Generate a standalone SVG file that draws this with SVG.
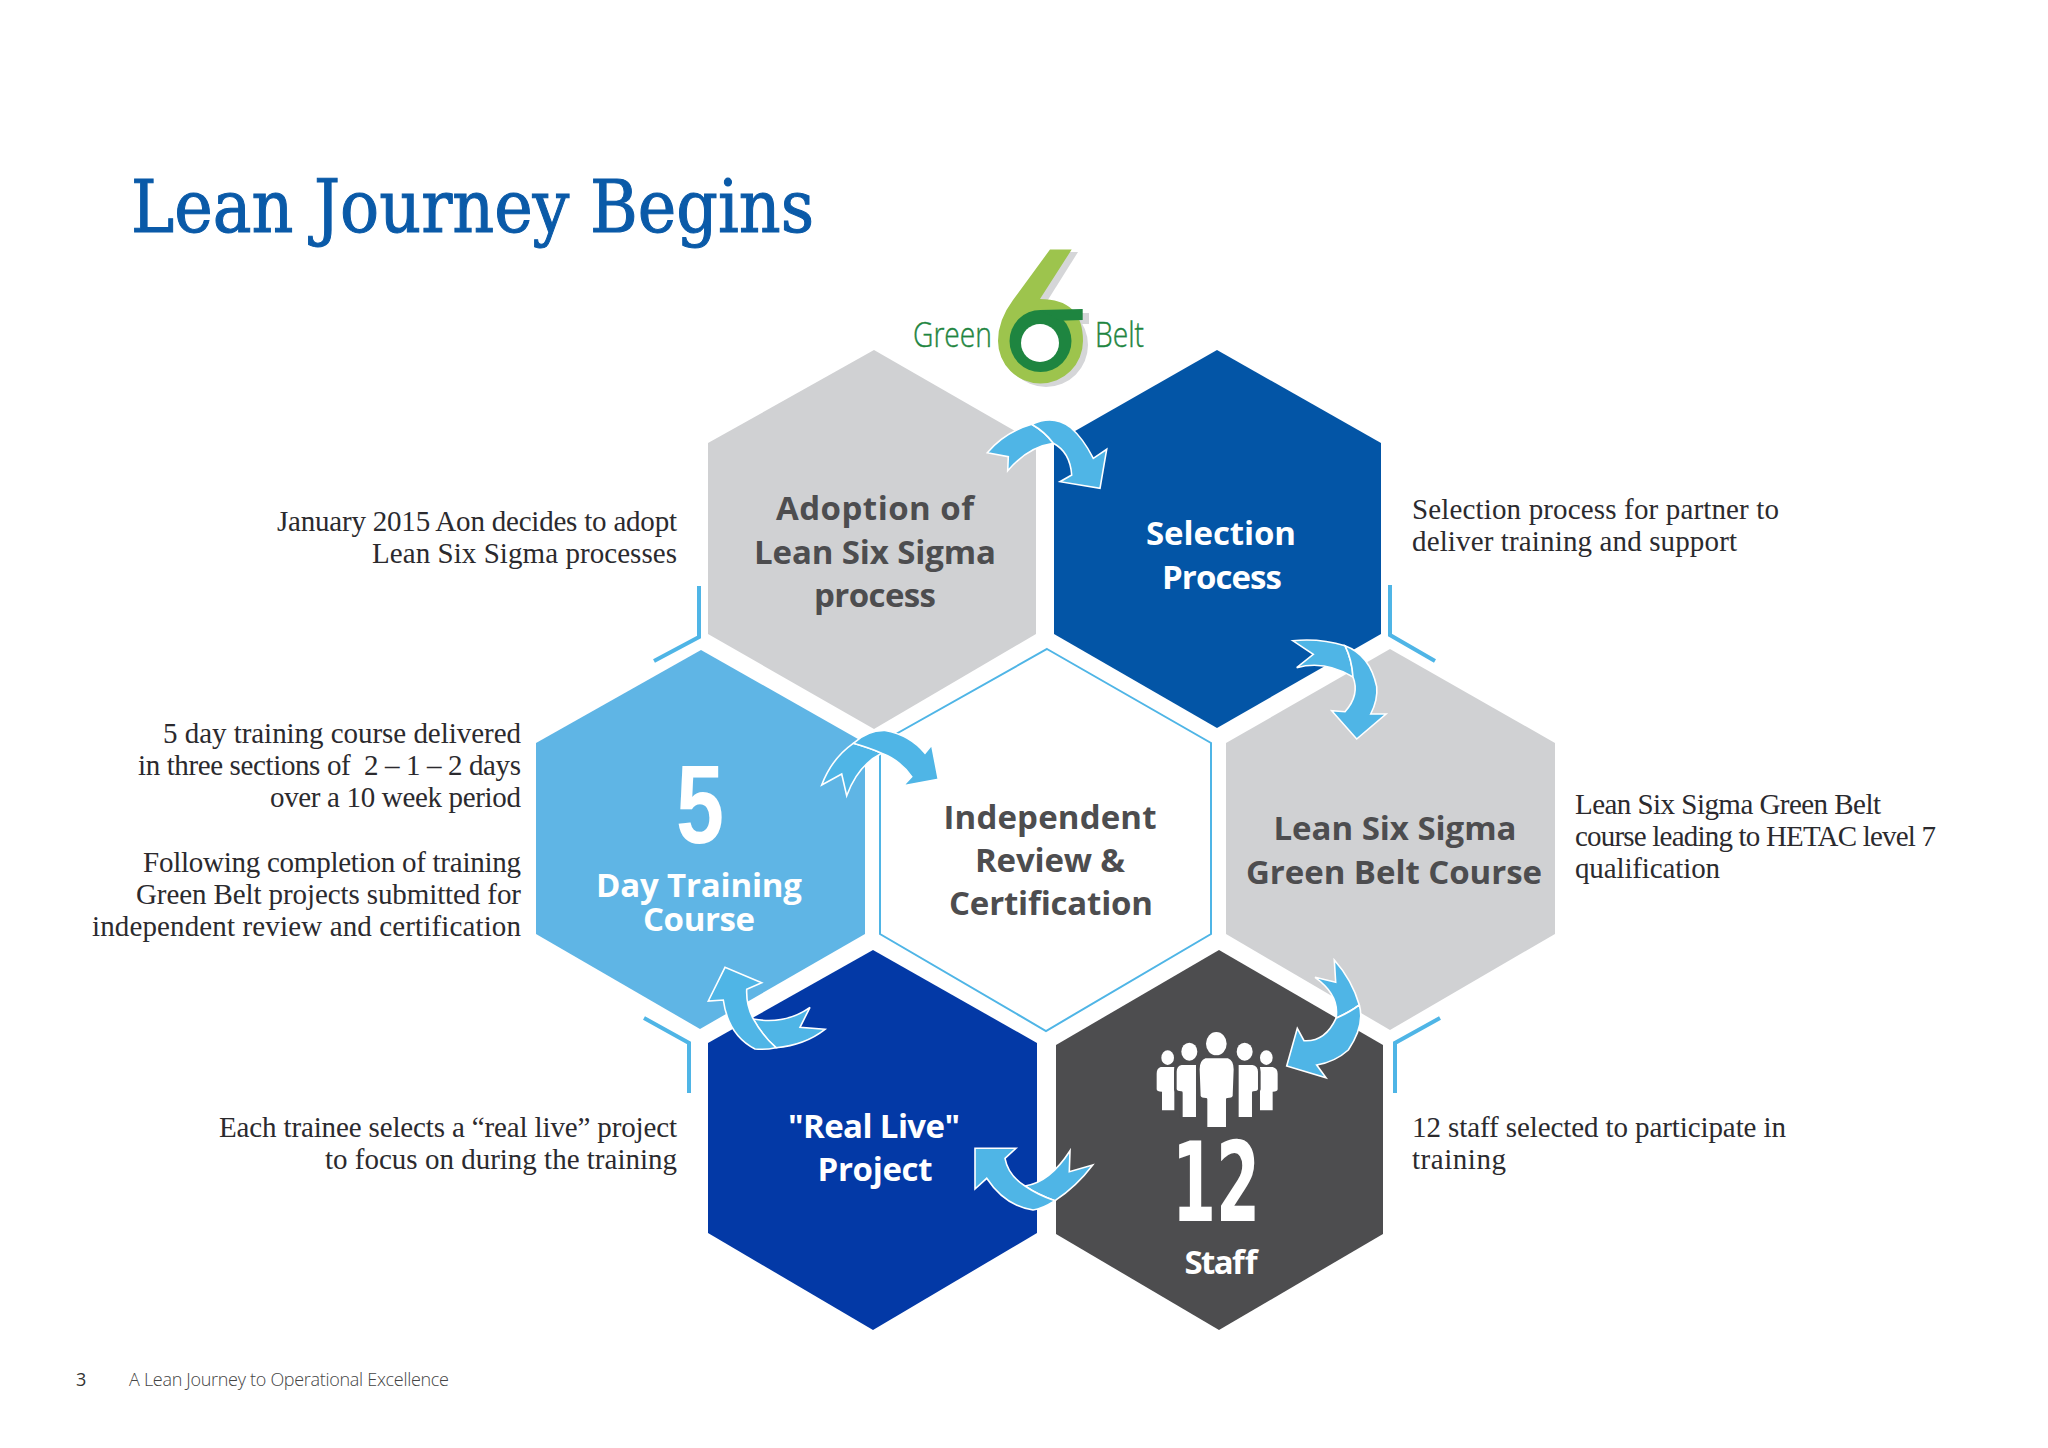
<svg xmlns="http://www.w3.org/2000/svg" width="2048" height="1448" viewBox="0 0 2048 1448">
<style>
.body{font-family:"Liberation Serif","DejaVu Serif",serif;font-size:29px;fill:#2b2a2e}
.end{text-anchor:end}
.lab{font-family:"Open Sans","Noto Sans",sans-serif;font-weight:700;font-size:33px;text-anchor:middle}
.w{fill:#fff}
.d{fill:#4d4d4f}
.br{fill:none;stroke:#4fb5e6;stroke-width:4}
.ar{fill:#4fb5e6;stroke:#fff;stroke-width:1.6;stroke-linejoin:miter}
.p{fill:#fff;stroke:#4d4d4f;stroke-width:8;stroke-linejoin:round}
</style>
<rect width="2048" height="1448" fill="#fff"/>
<text id="title" x="131" y="232" font-family="'DejaVu Serif Condensed','DejaVu Serif',serif" font-size="72" fill="#0a5aa8" stroke="#0a5aa8" stroke-width="1" textLength="683" lengthAdjust="spacingAndGlyphs">Lean Journey Begins</text>
<g id="logo">
<path d="M1056 252H1078L1046 303L1006 329Z" fill="#d5d6d8"/><circle cx="1046" cy="345" r="42" fill="#d5d6d8"/><rect x="1060" y="313" width="29" height="11" fill="#d5d6d8"/>
<path d="M1050 249.500H1071.700L1040 299Q1083 299 1083 341A42.500 42.500 0 0 1 998 341Q998 320 1013 300Z" fill="#9dc44d"/>
<circle cx="1040.500" cy="341" r="31" fill="#1e8540"/>
<path d="M1040 310L1082.700 309V320L1060 320.700Z" fill="#1e8540"/>
<circle cx="1040" cy="343" r="19" fill="#fff"/>
<text x="913" y="347" font-family="'Open Sans',sans-serif" font-weight="300" font-size="34" fill="#1e8540" stroke="#1e8540" stroke-width=".4" textLength="79" lengthAdjust="spacingAndGlyphs">Green</text>
<text x="1095" y="347" font-family="'Open Sans',sans-serif" font-weight="300" font-size="34" fill="#1e8540" stroke="#1e8540" stroke-width=".4" textLength="49" lengthAdjust="spacingAndGlyphs">Belt</text>
</g>
<g id="node-adoption">
<polygon points="874,350 1036,443 1036,634 874,729 708,634 708,443" fill="#d0d1d3"/>
<text class="lab d" x="875" y="520" textLength="198">Adoption of</text>
<text class="lab d" x="875" y="564" textLength="242">Lean Six Sigma</text>
<text class="lab d" x="875" y="607" textLength="122">process</text>
</g>
<g id="node-selection">
<polygon points="1217,350 1381,443 1381,634 1217,728 1054,634 1054,443" fill="#0355a6"/>
<text class="lab w" x="1221" y="545" textLength="150">Selection</text>
<text class="lab w" x="1222" y="589" textLength="120">Process</text>
</g>
<g id="node-course">
<polygon points="1390,649 1555,743 1555,934 1390,1030 1226,934 1226,743" fill="#d0d1d3"/>
<text class="lab d" x="1395" y="840" textLength="243">Lean Six Sigma</text>
<text class="lab d" x="1394" y="884" textLength="296">Green Belt Course</text>
</g>
<g id="node-center">
<polygon points="1047,649 1211,743 1211,934 1046,1031 880,934 880,743" fill="#fff" stroke="#4fb5e6" stroke-width="2"/>
<text class="lab d" x="1050" y="829" textLength="213">Independent</text>
<text class="lab d" x="1050" y="872" textLength="150">Review &amp;</text>
<text class="lab d" x="1051" y="915" textLength="204">Certification</text>
</g>
<g id="node-training">
<polygon points="701,650 865,743 865,934 700,1029 536,934 536,743" fill="#5fb5e5"/>
<text x="700" y="843" text-anchor="middle" font-family="'Liberation Sans',sans-serif" font-weight="700" font-size="112" fill="#fff" textLength="48" lengthAdjust="spacingAndGlyphs">5</text>
<text class="lab w" x="699" y="897" textLength="206">Day Training</text>
<text class="lab w" x="699" y="931" textLength="112">Course</text>
</g>
<g id="node-project">
<polygon points="873,950 1037,1043 1037,1233 873,1330 708,1233 708,1043" fill="#0339a6"/>
<text class="lab w" x="874" y="1138" textLength="172">"Real Live"</text>
<text class="lab w" x="875" y="1181" textLength="115">Project</text>
</g>
<g id="node-staff">
<polygon points="1219,950 1383,1045 1383,1234 1219,1330 1056,1234 1056,1045" fill="#4d4d4f"/>
<g transform="translate(1140 1021) scale(.3333)">
<ellipse class="w" cx="83" cy="110" rx="19" ry="22"/><path class="w" d="M62 138Q50 142 50 158V205Q50 212 66 212V268H103V138Z"/>
<ellipse class="w" cx="379" cy="110" rx="19" ry="22"/><path class="w" d="M398 138Q413 142 413 158V205Q413 212 398 212V268H360V138Z"/>
<ellipse class="w" cx="148" cy="92" rx="24" ry="27"/><path class="p" d="M124 128Q106 132 106 152V205Q108 215 124 215V292H172V128Z"/>
<ellipse class="w" cx="314" cy="92" rx="24" ry="27"/><path class="p" d="M338 128Q358 132 358 152V205Q356 215 340 215V292H292V128Z"/>
<ellipse class="w" cx="229" cy="68" rx="31" ry="35"/><path class="p" d="M195 108Q175 115 175 145L178 225Q180 235 198 235V322H262V235Q280 235 282 225L285 145Q285 115 265 108Z"/>
</g>
<text x="1216" y="1221" text-anchor="middle" font-family="'DejaVu Sans',sans-serif" font-weight="700" font-size="110" fill="#fff" textLength="88" lengthAdjust="spacingAndGlyphs">12</text>
<text class="lab w" x="1221" y="1274" textLength="73">Staff</text>
</g>
<g id="notes">
<text class="body end" x="677" y="531" textLength="400">January 2015 Aon decides to adopt</text>
<text class="body end" x="677" y="563" textLength="305">Lean Six Sigma processes</text>
<text class="body" x="1412" y="518.500" textLength="367">Selection process for partner to</text>
<text class="body" x="1412" y="550.500" textLength="325">deliver training and support</text>
<text class="body end" x="521" y="743" textLength="358">5 day training course delivered</text>
<text class="body end" x="521" y="775" textLength="383" xml:space="preserve">in three sections of  2 – 1 – 2 days</text>
<text class="body end" x="521" y="807" textLength="251">over a 10 week period</text>
<text class="body end" x="521" y="871.500" textLength="378">Following completion of training</text>
<text class="body end" x="521" y="904" textLength="385">Green Belt projects submitted for</text>
<text class="body end" x="521" y="936" textLength="429">independent review and certification</text>
<text class="body" x="1575" y="813.500" textLength="306">Lean Six Sigma Green Belt</text>
<text class="body" x="1575" y="845.500" textLength="361">course leading to HETAC level 7</text>
<text class="body" x="1575" y="877.500" textLength="145">qualification</text>
<text class="body end" x="677" y="1137" textLength="458">Each trainee selects a “real live” project</text>
<text class="body end" x="677" y="1169" textLength="352">to focus on during the training</text>
<text class="body" x="1412" y="1137" textLength="374">12 staff selected to participate in</text>
<text class="body" x="1412" y="1169" textLength="94">training</text>
</g>
<g id="brackets">
<path class="br" d="M699 586V637L654 661"/>
<path class="br" d="M1390 585V635L1435 661"/>
<path class="br" d="M644 1018L689 1043V1093"/>
<path class="br" d="M1440 1018L1395 1043V1093"/>
</g>
<g id="connectors">
<g id="arrow-1"><path class="ar" d="M987.300 452.700L1008.300 456.700L1007.700 470.700Q1028 447 1053.300 443.300Q1045 432 1031.700 424.300Q1005 432 987.300 452.700Z"/>
<path class="ar" d="M1031.700 424.300C1045 418 1058 418 1070 427Q1083 438 1093.300 458.300L1106.700 449.300L1100 488.300L1060 481.700L1071.700 475Q1070 452 1053.300 443.300Q1045 432 1031.700 424.300Z"/></g>
<g id="arrow-2"><path class="ar" d="M1292.700 640.700L1313.300 654.300L1296.700 667.700Q1325 660 1353 677Q1352 660 1345 645.700Q1320 638 1292.700 640.700Z"/>
<path class="ar" d="M1345 645.700Q1370 655 1376.700 686.700Q1378 700 1370.700 714L1386 714L1356.700 739L1331.700 710.700L1345 711.700Q1360 695 1353 677Q1352 660 1345 645.700Z"/></g>
<g id="arrow-3"><path class="ar" d="M1334.300 960L1335.700 982.300L1315 977.300Q1340 995 1336 1018.300Q1350 1012 1359.300 1005Q1352 980 1334.300 960Z"/>
<path class="ar" d="M1359.300 1005Q1365 1025 1348.300 1050Q1335 1062 1316.700 1065L1326 1077.700L1286.700 1066L1297.300 1028.300L1304 1040.700Q1325 1042 1336 1018.300Q1350 1012 1359.300 1005Z"/></g>
<g id="arrow-4"><path class="ar" d="M1092.700 1165L1069.300 1171.700L1070 1150.700Q1050 1182 1025 1186Q1038 1195 1055 1200.700Q1077 1186 1092.700 1165Z"/>
<path class="ar" d="M1055 1200.700Q1042 1209 1033 1210Q1005 1206 986.700 1178.300L975 1189V1148.300H1016L1005 1158.300Q1008 1175 1025 1186Q1038 1195 1055 1200.700Z"/></g>
<g id="arrow-5"><path class="ar" d="M825 1029.300L800 1027.300L810 1007.300Q785 1025 753.300 1019Q762 1035 776 1047.700Q805 1045 825 1029.300Z"/>
<path class="ar" d="M776 1047.700Q765 1050 755 1049Q728 1035 723.300 1000L708.300 1001L725 967.300L761.700 982.700L746.700 989.300Q746 1005 753.300 1019Q762 1035 776 1047.700Z"/></g>
<g id="arrow-6"><path class="ar" d="M821.700 785L841.700 774L846.700 795.700Q858 765 881.700 753.300Q870 748 853.300 743.300Q832 758 821.700 785Z"/>
<path class="ar" d="M853.300 743.300Q868 730 885 730.500Q910 735 925 753.300L931.700 745L938.300 779.300L903.300 785.700L911.700 776.700Q900 760 881.700 753.300Q870 748 853.300 743.300Z"/></g>
</g>
<g id="footer" font-family="'Open Sans',sans-serif" font-size="18">
<text x="76" y="1386" fill="#333">3</text>
<text x="129" y="1386" font-weight="300" fill="#444" textLength="320">A Lean Journey to Operational Excellence</text>
</g>
</svg>
